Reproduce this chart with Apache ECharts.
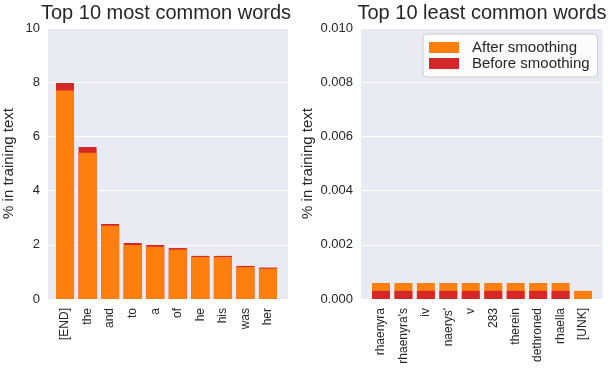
<!DOCTYPE html>
<html>
<head>
<meta charset="utf-8">
<script src="https://cdn.jsdelivr.net/npm/echarts@6/dist/echarts.min.js"></script>
<style>html,body{margin:0;padding:0;background:#fff}#c{width:614px;height:369px}</style>
</head>
<body>
<div id="c"></div>
<script>
var commonWords = ['[END]', 'the', 'and', 'to', 'a', 'of', 'he', 'his', 'was', 'her'];
var commonBefore = [7.97, 5.61, 2.77, 2.07, 1.99, 1.88, 1.59, 1.59, 1.22, 1.16];
var commonAfter = [7.69, 5.40, 2.70, 1.99, 1.93, 1.82, 1.55, 1.55, 1.18, 1.12];
var rareWords = ['rhaenyra', "rhaenyra's", 'iv', "naerys'", 'v', '283', 'therein', 'dethroned', 'rhaella', '[UNK]'];
var rareBefore = [0.0003, 0.0003, 0.0003, 0.0003, 0.0003, 0.0003, 0.0003, 0.0003, 0.0003, 0];
var rareAfter = [0.00059, 0.00059, 0.00059, 0.00059, 0.00059, 0.00059, 0.00059, 0.00059, 0.00059, 0.0003];
var commonTicks = {min: 0, max: 10, interval: 2};
var rareTicks = {min: 0, max: 0.01, interval: 0.002};

var FONT = "'Liberation Sans', Arial, sans-serif";
var TXT = '#262626';
var ORANGE = '#ff7f0e', RED = '#d62728';

var chart = echarts.init(document.getElementById('c'), null, {renderer: 'canvas'});

function bgY(idx, ticks, fmt, gap) {
  return {
    type: 'value', gridIndex: idx, min: ticks.min, max: ticks.max, interval: ticks.interval,
    name: '% in training text', nameLocation: 'middle', nameGap: gap,
    nameTextStyle: {fontFamily: FONT, fontSize: 15, color: TXT},
    axisLine: {show: false}, axisTick: {show: false},
    axisLabel: {fontFamily: FONT, fontSize: 13, color: TXT, margin: 8, formatter: fmt},
    splitLine: {show: true, lineStyle: {color: '#ffffff', width: 1}}
  };
}
function innerY(idx, ticks) {
  return {type: 'value', gridIndex: idx, min: ticks.min, max: ticks.max, interval: ticks.interval, show: false, splitLine: {show: false}};
}
function bgX(idx) {
  return {type: 'value', gridIndex: idx, min: 0, max: 1, show: false, splitLine: {show: false}};
}
function catX(idx, words) {
  return {
    type: 'category', gridIndex: idx, data: words, boundaryGap: true,
    axisLine: {show: false}, axisTick: {show: false},
    axisLabel: {rotate: 90, fontFamily: FONT, fontSize: 12, color: TXT, margin: 9, interval: 0}
  };
}
function bar(name, color, xi, yi, data) {
  return {
    name: name, type: 'bar', xAxisIndex: xi, yAxisIndex: yi, data: data,
    barWidth: '80%', barGap: '-100%', itemStyle: {color: color}, animation: false,
    emphasis: {disabled: true}
  };
}

chart.setOption({
  animation: false,
  backgroundColor: '#ffffff',
  title: [
    {text: 'Top 10 most common words', left: 166, top: 3, textAlign: 'center', padding: 0,
     textStyle: {fontFamily: FONT, fontSize: 20, fontWeight: 'normal', color: TXT}},
    {text: 'Top 10 least common words', left: 482, top: 3, textAlign: 'center', padding: 0,
     textStyle: {fontFamily: FONT, fontSize: 20, fontWeight: 'normal', color: TXT}}
  ],
  legend: {
    data: ['After smoothing', 'Before smoothing'],
    orient: 'vertical', left: 423, top: 34, width: 172,
    padding: [6, 8, 6, 6], itemGap: 1, itemWidth: 30, itemHeight: 11,
    backgroundColor: 'rgba(255,255,255,0.85)', borderColor: '#cccccc', borderWidth: 1, borderRadius: 4,
    icon: 'rect',
    textStyle: {fontFamily: FONT, fontSize: 15, color: TXT, padding: [0, 0, 0, 8]},
    selectedMode: false
  },
  grid: [
    {left: 45, right: 326, top: 28, bottom: 70, show: true, backgroundColor: '#eaeaf2', borderWidth: 0},
    {left: 53.75, right: 334.75, top: 28, bottom: 70, show: false},
    {left: 361, right: 11.3, top: 28, bottom: 70, show: true, backgroundColor: '#eaeaf2', borderWidth: 0},
    {left: 369.75, right: 19.75, top: 28, bottom: 70, show: false}
  ],
  xAxis: [bgX(0), catX(1, commonWords), bgX(2), catX(3, rareWords)],
  yAxis: [
    bgY(0, commonTicks, function (v) { return String(v); }, 32),
    innerY(1, commonTicks),
    bgY(2, rareTicks, function (v) { return v.toFixed(3); }, 46),
    innerY(3, rareTicks)
  ],
  series: [
    bar('Before smoothing', RED, 1, 1, commonBefore),
    bar('After smoothing', ORANGE, 1, 1, commonAfter),
    bar('After smoothing', ORANGE, 3, 3, rareAfter),
    bar('Before smoothing', RED, 3, 3, rareBefore)
  ]
});
</script>
</body>
</html>
